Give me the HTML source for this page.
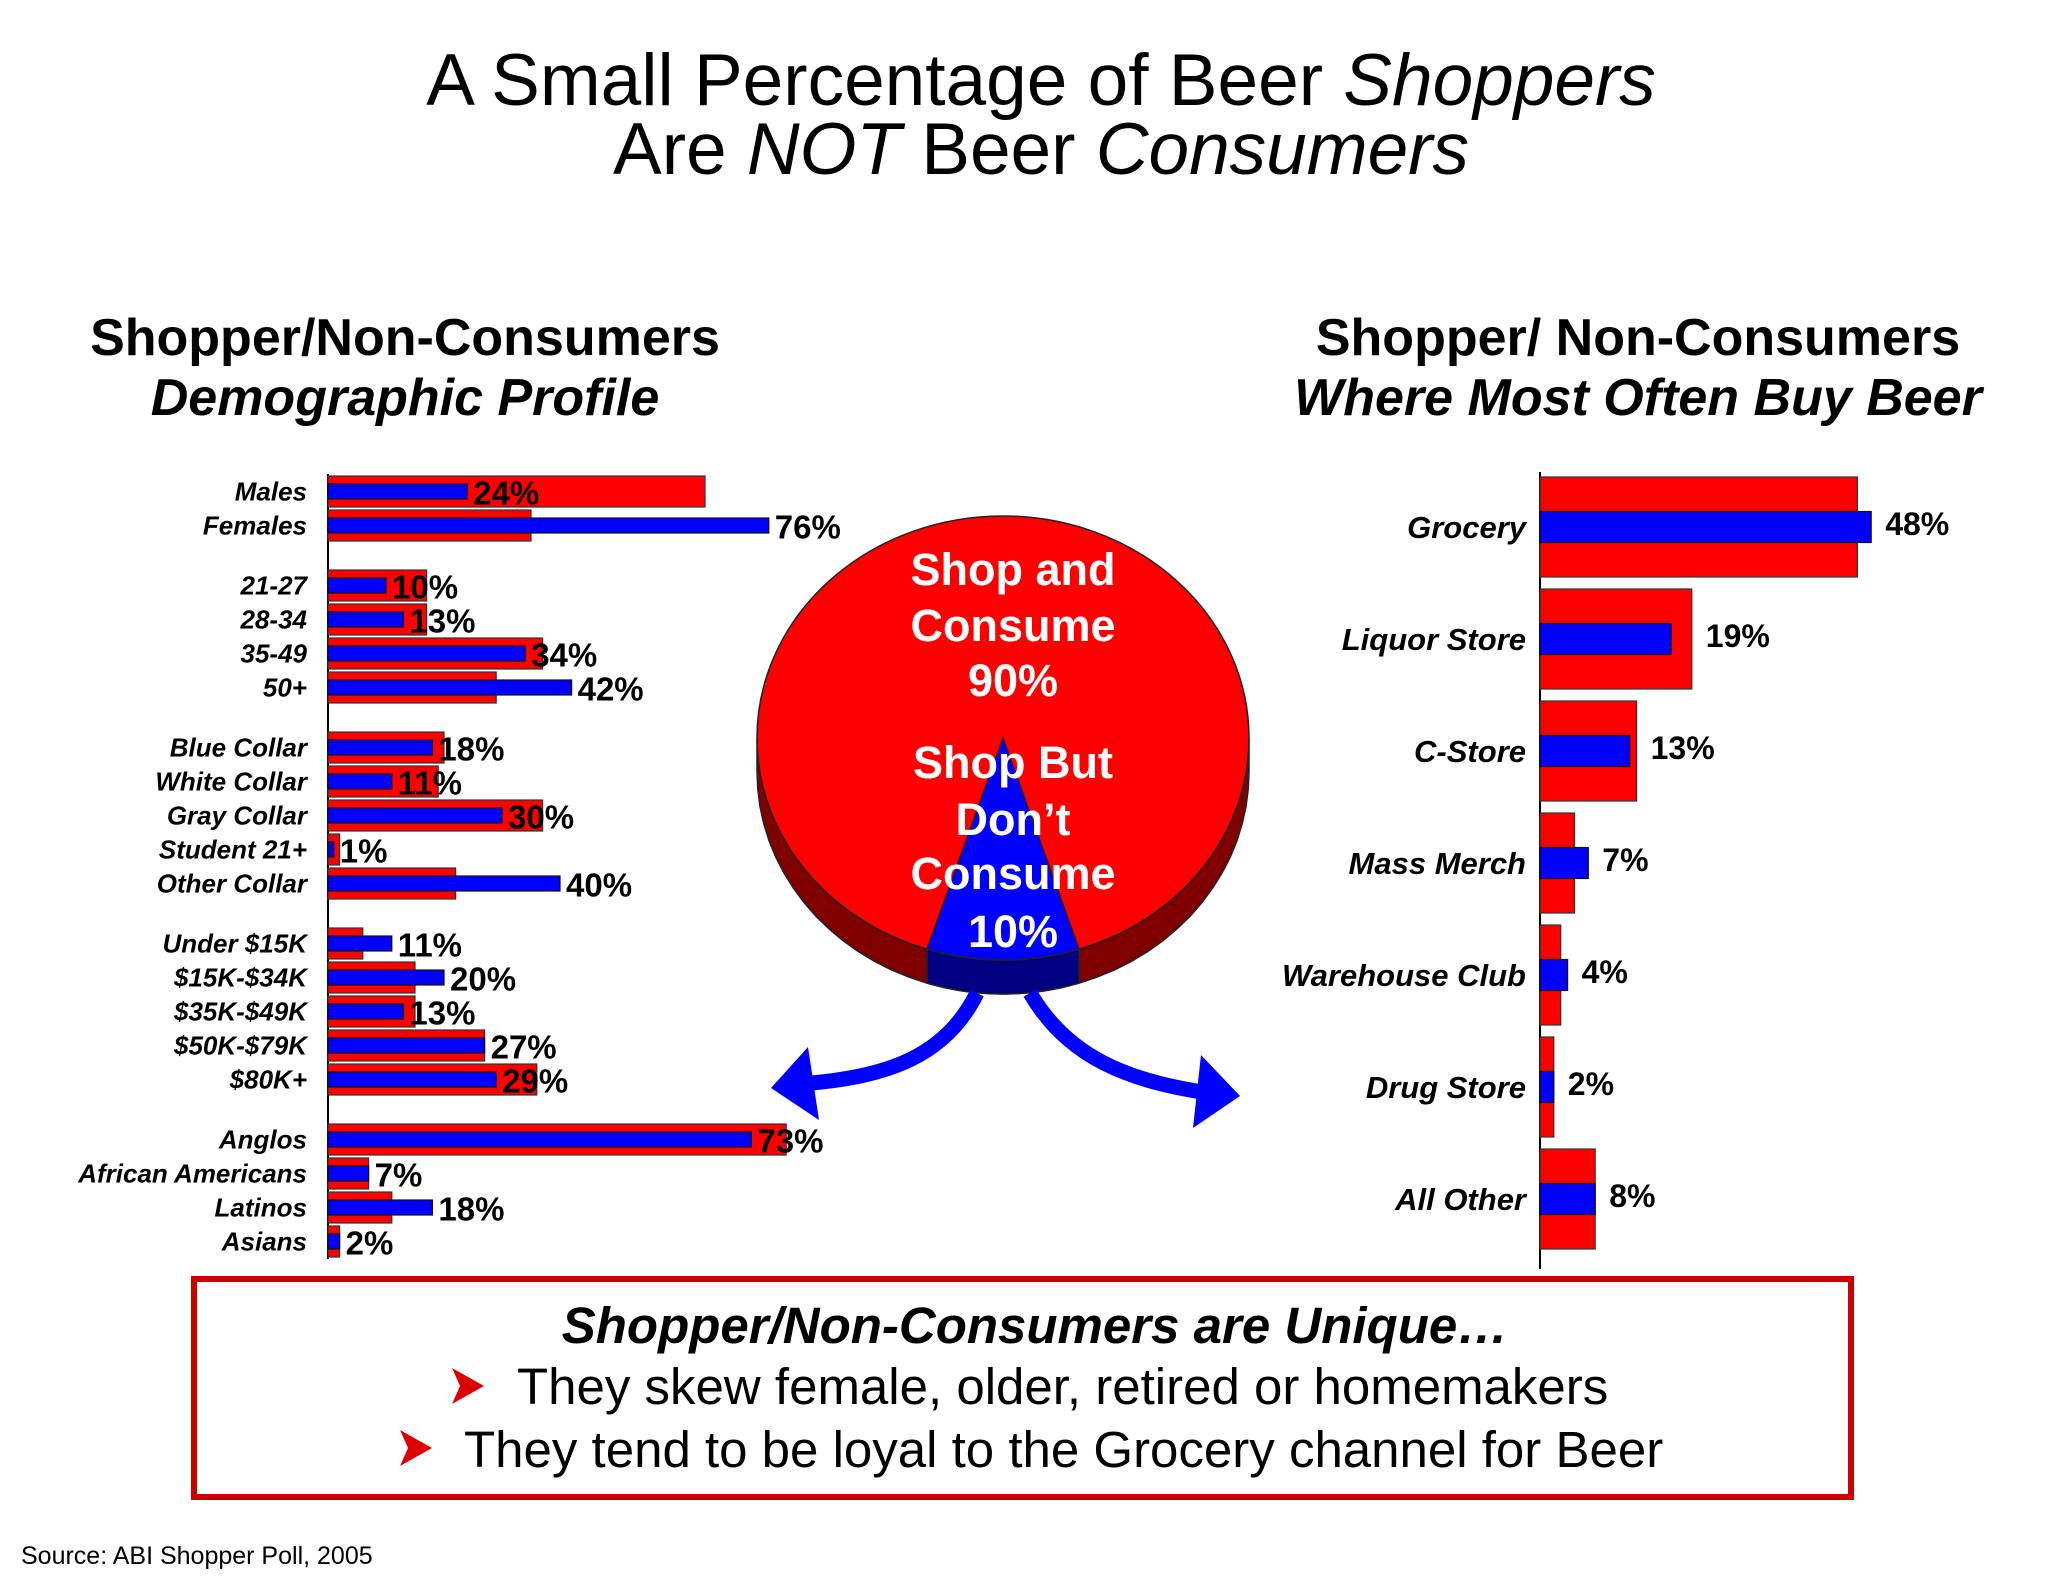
<!DOCTYPE html>
<html><head><meta charset="utf-8"><style>
html,body{margin:0;padding:0;background:#fff;}
svg{display:block;}
text{font-family:"Liberation Sans",Arial,sans-serif;}
.nar{font-family:"Liberation Sans Narrow","Liberation Sans",sans-serif;font-stretch:condensed;font-weight:bold;}
</style></head><body>
<svg id="root" width="2048" height="1582" viewBox="0 0 2048 1582" xmlns="http://www.w3.org/2000/svg">
<rect width="2048" height="1582" fill="#fff"/>
<g font-size="73" text-anchor="middle" fill="#000">
<text x="1041" y="105">A Small Percentage of Beer <tspan font-style="italic">Shoppers</tspan></text>
<text x="1041" y="174">Are <tspan font-style="italic">NOT</tspan> Beer <tspan font-style="italic">Consumers</tspan></text>
</g>
<g font-size="52" font-weight="bold" text-anchor="middle">
<text x="405" y="355">Shopper/Non-Consumers</text>
<text x="405" y="415" font-style="italic">Demographic Profile</text>
</g>
<g font-size="52" font-weight="bold" text-anchor="middle">
<text x="1638" y="355">Shopper/ Non-Consumers</text>
<text x="1638" y="415" font-style="italic">Where Most Often Buy Beer</text>
</g>
<g id="left"></g>
<g id="right"></g>
<g id="pie"></g>
<g fill="#0000ff">
<path d="M977 993 C945 1058 885 1076 812 1083" stroke="#0000ff" stroke-width="15" fill="none"/>
<polygon points="771,1088 808,1047 819,1120"/>
<path d="M1030 993 C1068 1058 1128 1080 1202 1092" stroke="#0000ff" stroke-width="15" fill="none"/>
<polygon points="1240,1096 1201,1055 1193,1128"/>
</g>
<g>
<rect x="194" y="1279" width="1657" height="218" fill="#fff" stroke="#cc0000" stroke-width="6"/>
<text x="1035" y="1343" font-size="51" font-weight="bold" font-style="italic" text-anchor="middle">Shopper/Non-Consumers are Unique…</text>
<polygon points="452,1368 484,1386 452,1404 460,1386" fill="#dd0000"/>
<text x="517" y="1404" font-size="51">They skew female, older, retired or homemakers</text>
<polygon points="400,1430 432,1448 400,1466 408,1448" fill="#dd0000"/>
<text x="464" y="1467" font-size="51">They tend to be loyal to the Grocery channel for Beer</text>
</g>
<text x="21" y="1564" font-size="25">Source: ABI Shopper Poll, 2005</text>
</svg>
<script>
// Left chart data
var leftCats=["Males","Females","21-27","28-34","35-49","50+","Blue Collar","White Collar","Gray Collar","Student 21+","Other Collar","Under $15K","$15K-$34K","$35K-$49K","$50K-$79K","$80K+","Anglos","African Americans","Latinos","Asians"];
var leftGroup=[0,0,1,1,1,1,2,2,2,2,2,3,3,3,3,3,4,4,4,4];
var leftConsumers=[65,35,17,17,37,29,20,19,37,2,22,6,15,15,27,36,79,7,11,2];
var leftNonConsumers=[24,76,10,13,34,42,18,11,30,1,40,11,20,13,27,29,73,7,18,2];
var leftLabels=["24%","76%","10%","13%","34%","42%","18%","11%","30%","1%","40%","11%","20%","13%","27%","29%","73%","7%","18%","2%"];
// Right chart data
var rightCats=["Grocery","Liquor Store","C-Store","Mass Merch","Warehouse Club","Drug Store","All Other"];
var rightConsumers=[46,22,14,5,3,2,8];
var rightNonConsumers=[48,19,13,7,4,2,8];
var rightLabels=["48%","19%","13%","7%","4%","2%","8%"];
// Pie data
var pieValues=[90,10];
var pieLabels=[["Shop and","Consume","90%"],["Shop But","Don\u2019t","Consume","10%"]];

(function(){
const NS="http://www.w3.org/2000/svg";
function mk(tag,attrs,parent){const e=document.createElementNS(NS,tag);for(const k in attrs)e.setAttribute(k,attrs[k]);parent.appendChild(e);return e;}

// LEFT
const L=document.getElementById('left');
const lx0=328, lTop=476, lPitch=34, lGap=26, lRedH=31, lBlueH=15;
const lx=v=>v*5.8;
const ly=i=>lTop+i*lPitch+leftGroup[i]*lGap;
mk('line',{x1:lx0,y1:474,x2:lx0,y2:ly(leftCats.length-1)+lRedH+2,stroke:'#000','stroke-width':2},L);
leftCats.forEach((c,i)=>{
  const y=ly(i);
  const r=mk('rect',{x:lx0,y:y,width:lx(leftConsumers[i]),height:lRedH,fill:'#ff0000',stroke:'#333','stroke-width':1.2},L);
  
  
  const b=mk('rect',{x:lx0,y:y+(lRedH-lBlueH)/2,width:lx(leftNonConsumers[i]),height:lBlueH,fill:'#0000ff',stroke:'#111','stroke-width':1.2},L);
  
  
  const t=mk('text',{x:307,y:y+lRedH/2+9,'font-size':26,'font-weight':'bold','font-style':'italic','text-anchor':'end'},L);
  t.textContent=c;
  
  
  const v=mk('text',{x:lx0+lx(leftNonConsumers[i])+6,y:y+lRedH/2+13,'font-size':33,class:'nar'},L);
  v.textContent=leftLabels[i];
  
  
});

// RIGHT
const R=document.getElementById('right');
const rx0=1540, rTop=477, rPitch=112, rRedH=100, rBlueH=31;
const rx=v=>v*6.9;
const ry=i=>rTop+i*rPitch;
mk('line',{x1:rx0,y1:472,x2:rx0,y2:ry(rightCats.length-1)+rRedH+20,stroke:'#000','stroke-width':2},R);
rightCats.forEach((c,i)=>{
  const y=ry(i);
  const r=mk('rect',{x:rx0,y:y,width:rx(rightConsumers[i]),height:rRedH,fill:'#ff0000',stroke:'#333','stroke-width':1.2},R);
  
  
  const b=mk('rect',{x:rx0,y:y+(rRedH-rBlueH)/2,width:rx(rightNonConsumers[i]),height:rBlueH,fill:'#0000ff',stroke:'#111','stroke-width':1.2},R);
  
  
  const t=mk('text',{x:1526,y:y+rRedH/2+11,'font-size':31,'font-weight':'bold','font-style':'italic','text-anchor':'end'},R);
  t.textContent=c;
  
  
  const end=Math.max(rx(rightConsumers[i]),rx(rightNonConsumers[i]));
  const v=mk('text',{x:rx0+end+14,y:y+rRedH/2+8,'font-size':32,'font-weight':'bold'},R);
  v.textContent=rightLabels[i];
  
  
});

// PIE
const P=document.getElementById('pie');
const cx=1003, cy=738, prx=246, pry=222, depth=34;
const tot=pieValues[0]+pieValues[1];
const half=pieValues[1]/tot*Math.PI;
const a0=Math.PI/2-half, a1=Math.PI/2+half;
const pt=(a,d)=>[cx+prx*Math.cos(a), cy+pry*Math.sin(a)+(d||0)];
function side(s,e){
  let d='';const n=40;
  for(let k=0;k<=n;k++){const a=s+(e-s)*k/n;const p=pt(a);d+=(k?'L':'M')+p[0].toFixed(1)+' '+p[1].toFixed(1);}
  for(let k=n;k>=0;k--){const a=s+(e-s)*k/n;const p=pt(a,depth);d+='L'+p[0].toFixed(1)+' '+p[1].toFixed(1);}
  return d+'Z';
}
const sr=mk('path',{d:side(0,Math.PI),fill:'#800000',stroke:'#222','stroke-width':1.5},P);


const sb=mk('path',{d:side(a0,a1),fill:'#000080',stroke:'#222','stroke-width':1.5},P);


const topFace=mk('ellipse',{cx:cx,cy:cy,rx:prx,ry:pry,fill:'#ff0000',stroke:'#222','stroke-width':1.5},P);


const p0=pt(a0),p1=pt(a1);
const w=mk('path',{d:`M${cx} ${cy} L${p0[0]} ${p0[1]} A${prx} ${pry} 0 0 1 ${p1[0]} ${p1[1]} Z`,fill:'#0000ff',stroke:'#222','stroke-width':1.5},P);


const lines=pieLabels[0].concat(pieLabels[1]);
const ys=[585,641,696,778,835,889,947];
lines.forEach((s,i)=>{
  const t=mk('text',{x:1013,y:ys[i],'font-size':45,'font-weight':'bold',fill:'#fff','text-anchor':'middle'},P);
  t.textContent=s;
  
  
});
})();
</script>
</body></html>
